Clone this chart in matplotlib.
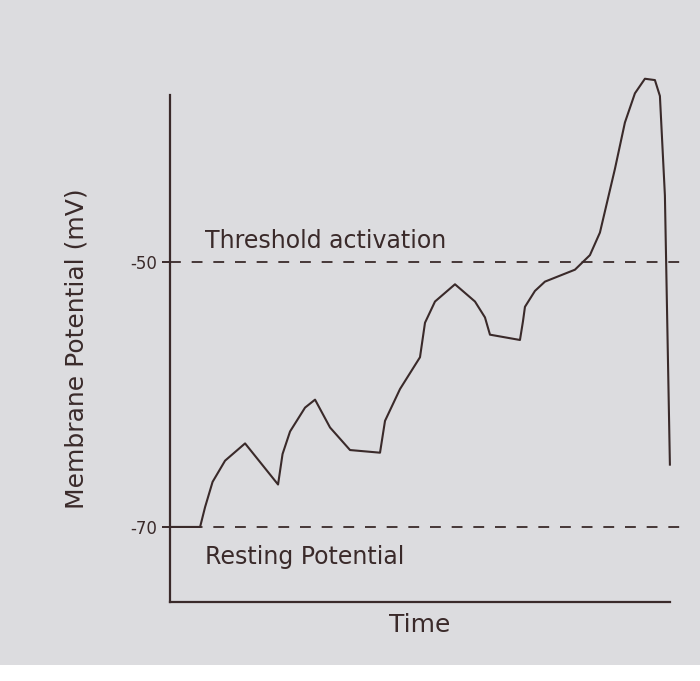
import matplotlib
matplotlib.use("Agg")
import matplotlib.pyplot as plt

t = [0, 6, 7, 8.5, 11, 15, 21.6, 22.5, 24, 27, 29, 32, 36, 42, 43, 46, 48, 50, 51, 53, 57, 61, 63, 64, 70, 70.6, 71, 73, 75, 81, 84, 86, 89, 91, 93, 95, 97, 98, 99, 100]
mv = [-70, -70, -68.5, -66.6, -65.0, -63.7, -66.8, -64.5, -62.8, -61.0, -60.4, -62.5, -64.2, -64.4, -62.0, -59.6, -58.4, -57.2, -54.6, -53.0, -51.7, -53.0, -54.2, -55.5, -55.9, -54.5, -53.4, -52.2, -51.5, -50.6, -49.5, -47.8, -43.0, -39.5, -37.3, -36.2, -36.3, -37.5, -45.0, -65.3]
ticks = [-70, -50]
tick_labels = ["-70", "-50"]

bg = "#dcdcdf"
ink = "#3a2a2a"
fig = plt.figure(figsize=(7, 6.81), dpi=100, facecolor=bg)
fig.patches.append(plt.Rectangle((0, 0), 1, 16 / 681, transform=fig.transFigure,
                                 facecolor="white", edgecolor="none", zorder=-1))
ax = fig.add_axes([0.243, 0.116, 0.714, 0.745])
ax.set_facecolor(bg)
ax.set_xlim(0, 100)
ax.set_ylim(-75.66, -37.4)
for s in ["top", "right"]:
    ax.spines[s].set_visible(False)
for s in ["left", "bottom"]:
    ax.spines[s].set_color(ink)
    ax.spines[s].set_linewidth(1.6)

ax.plot(t, mv, color=ink, lw=1.5, clip_on=False, solid_joinstyle="round")
for v in ticks:
    ax.plot([0, 103], [v, v], color=ink, lw=1.3, ls=(0, (6, 6)), clip_on=False)

ax.set_xticks([])
ax.set_yticks(ticks)
ax.set_yticklabels(tick_labels, fontsize=12, color=ink)
ax.tick_params(axis="y", color=ink, length=6, width=1.4)

ax.text(7, -49.0, "Threshold activation", fontsize=17, color=ink)
ax.text(7, -72.8, "Resting Potential", fontsize=17, color=ink)
ax.set_xlabel("Time", fontsize=18, color=ink, labelpad=8)
ax.set_ylabel("Membrane Potential (mV)", fontsize=18, color=ink, labelpad=30)
fig.savefig("out.png", dpi=100, facecolor=bg)
